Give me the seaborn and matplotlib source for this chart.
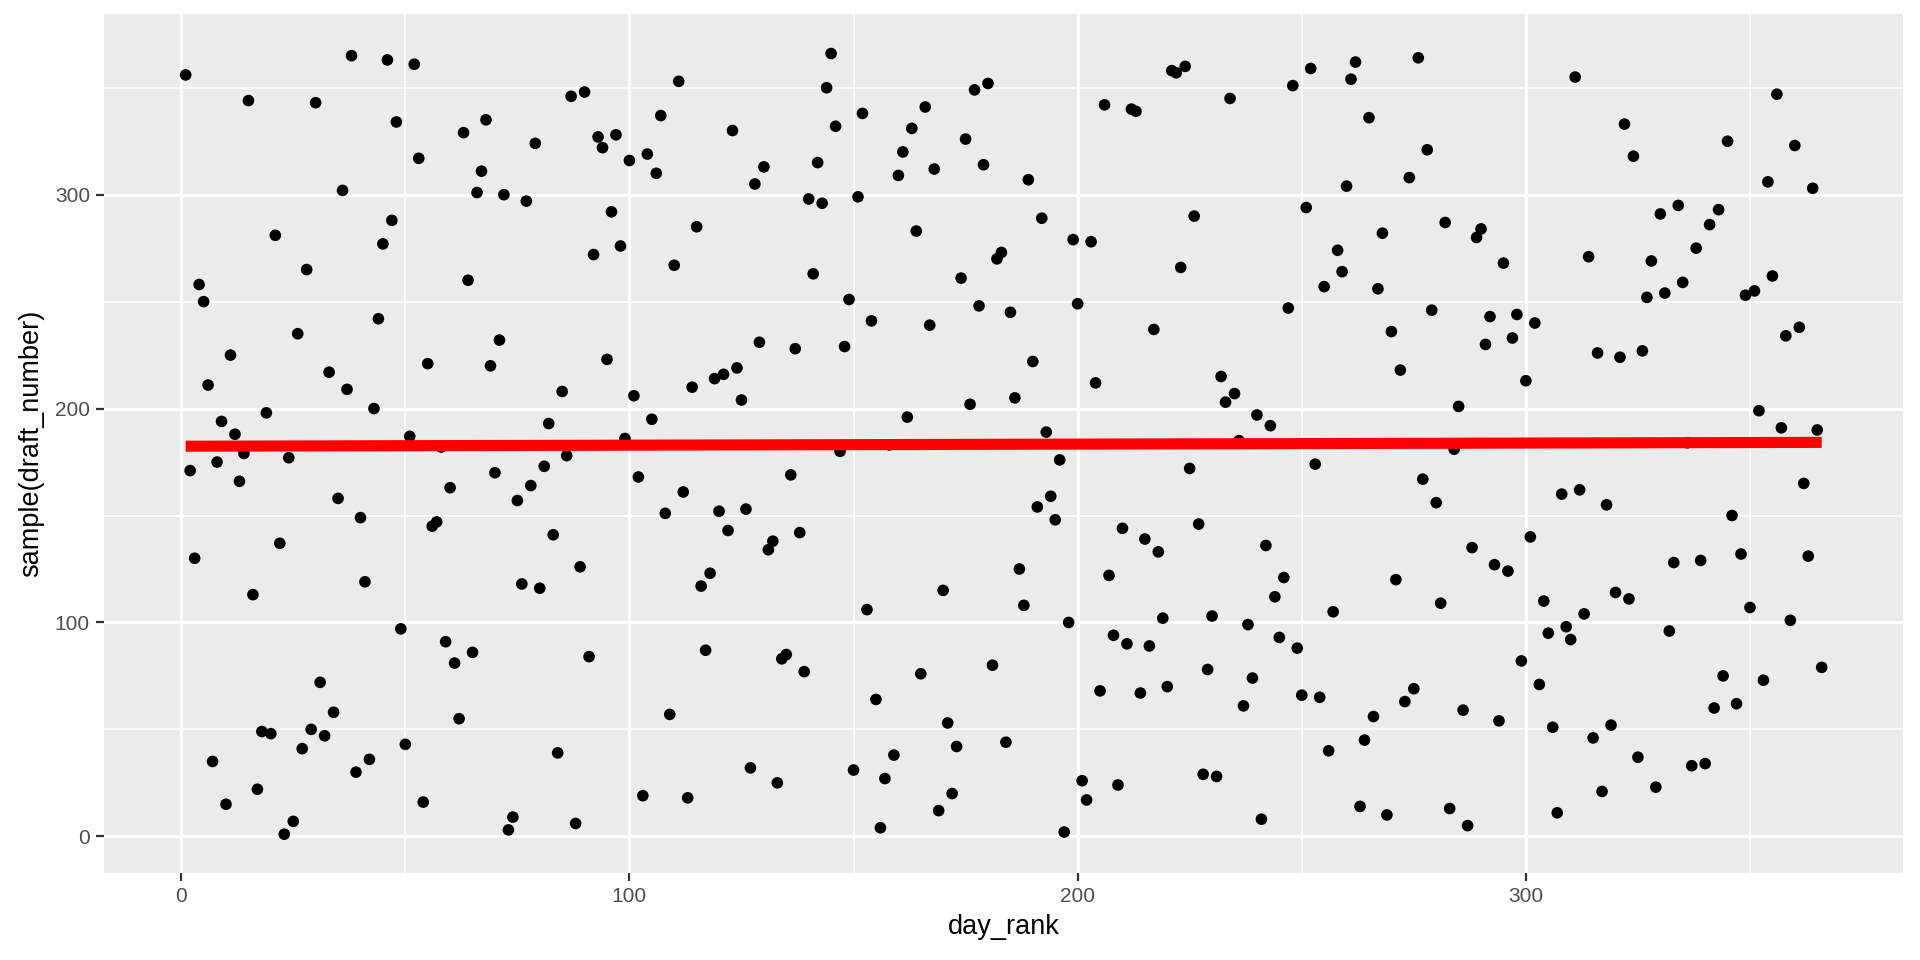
import numpy as np
import pandas as pd
import matplotlib
matplotlib.use("Agg")
import matplotlib.pyplot as plt
import seaborn as sns
from matplotlib.ticker import FixedLocator

# ---- data ----
day_rank = list(range(1, 367))
draft_number = [
    356, 171, 130, 258, 250, 211, 35, 175, 194, 15, 225, 188, 166, 179, 344, 113, 22, 49, 198, 48,
    281, 137, 1, 177, 7, 235, 41, 265, 50, 343, 72, 47, 217, 58, 158, 302, 209, 365, 30, 149,
    119, 36, 200, 242, 277, 363, 288, 334, 97, 43, 187, 361, 317, 16, 221, 145, 147, 182, 91, 163,
    81, 55, 329, 260, 86, 301, 311, 335, 220, 170, 232, 300, 3, 9, 157, 118, 297, 164, 324, 116,
    173, 193, 141, 39, 208, 178, 346, 6, 126, 348, 84, 272, 327, 322, 223, 292, 328, 276, 186, 316,
    206, 168, 19, 319, 195, 310, 337, 151, 57, 267, 353, 161, 18, 210, 285, 117, 87, 123, 214, 152,
    216, 143, 330, 219, 204, 153, 32, 305, 231, 313, 134, 138, 25, 83, 85, 169, 228, 142, 77, 298,
    263, 315, 296, 350, 366, 332, 180, 229, 251, 31, 299, 338, 106, 241, 64, 4, 27, 183, 38, 309,
    320, 196, 331, 283, 76, 341, 239, 312, 12, 115, 53, 20, 42, 261, 326, 202, 349, 248, 314, 352,
    80, 270, 273, 44, 245, 205, 125, 108, 307, 222, 154, 289, 189, 159, 148, 176, 2, 100, 279, 249,
    26, 17, 278, 212, 68, 342, 122, 94, 24, 144, 90, 340, 339, 67, 139, 89, 237, 133, 102, 70,
    358, 357, 266, 360, 172, 290, 146, 29, 78, 103, 28, 215, 203, 345, 207, 185, 61, 99, 74, 197,
    8, 136, 192, 112, 93, 121, 247, 351, 88, 66, 294, 359, 174, 65, 257, 40, 105, 274, 264, 304,
    354, 362, 14, 45, 336, 56, 256, 282, 10, 236, 120, 218, 63, 308, 69, 364, 167, 321, 246, 156,
    109, 287, 13, 181, 201, 59, 5, 135, 280, 284, 230, 243, 127, 54, 268, 124, 233, 244, 82, 213,
    140, 240, 71, 110, 95, 51, 11, 160, 98, 92, 355, 162, 104, 271, 46, 226, 21, 155, 52, 114,
    224, 333, 111, 318, 37, 227, 252, 269, 23, 291, 254, 96, 128, 295, 259, 184, 33, 275, 129, 34,
    286, 60, 293, 75, 325, 150, 62, 132, 253, 107, 255, 199, 73, 306, 262, 347, 191, 234, 101, 323,
    238, 165, 131, 303, 190, 79,
]
# The reference's linear-fit line (geom_smooth re-evaluated sample(), so it was
# fit to a different shuffle): endpoints.
smooth_day = [1, 366]
smooth_value = [182.4, 184.2]

x_ticks = [0, 100, 200, 300]
y_ticks = [0, 100, 200, 300]
minor_ticks = [50, 150, 250, 350]
x_label = "day_rank"
y_label = "sample(draft_number)"

df = pd.DataFrame({"day_rank": day_rank, "draft_number": draft_number})
fit_df = pd.DataFrame({"day_rank": smooth_day, "fit": smooth_value})

sns.set_style("white")
plt.rcParams["font.family"] = ["Liberation Sans", "DejaVu Sans"]

fig = plt.figure(figsize=(19.2, 9.6), dpi=100)
ax = fig.add_axes([0.0541, 0.0904, 0.9914 - 0.0541, 0.9849 - 0.0904])
ax.set_facecolor("#EBEBEB")

sns.scatterplot(data=df, x="day_rank", y="draft_number", ax=ax, color="black",
                s=70, edgecolor="none", linewidth=0, zorder=3)
sns.lineplot(data=fit_df, x="day_rank", y="fit", ax=ax, color="red", lw=8,
             solid_capstyle="butt", zorder=4, legend=False)

def expand(vals):
    lo, hi = min(vals), max(vals)
    r = hi - lo
    return lo - 0.05 * r, hi + 0.05 * r

ax.set_xlim(*expand(day_rank))
ax.set_ylim(*expand(draft_number))

ax.xaxis.set_major_locator(FixedLocator(x_ticks))
ax.yaxis.set_major_locator(FixedLocator(y_ticks))
ax.xaxis.set_minor_locator(FixedLocator(minor_ticks))
ax.yaxis.set_minor_locator(FixedLocator(minor_ticks))
ax.grid(which="major", color="white", lw=2.2, zorder=0)
ax.grid(which="minor", color="white", lw=1.1, zorder=0)
ax.set_axisbelow(True)
for s in ax.spines.values():
    s.set_visible(False)

ax.tick_params(which="major", length=6, width=1.6, color="#333333",
               labelsize=15, labelcolor="#4D4D4D", pad=4, direction="out",
               bottom=True, left=True)
ax.tick_params(which="minor", length=0)

ax.set_xlabel(x_label, fontsize=19.5, color="black", labelpad=6)
ax.set_ylabel(y_label, fontsize=19.5, color="black", labelpad=8)

fig.savefig("out.png", dpi=100, facecolor="white")
